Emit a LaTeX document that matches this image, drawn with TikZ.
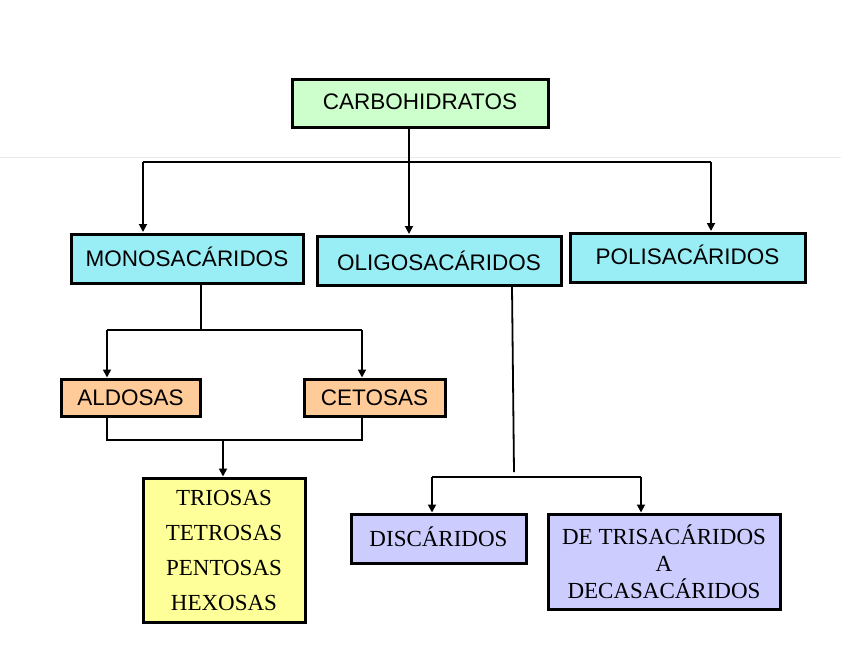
\documentclass[tikz,border=0pt]{standalone}
\usepackage{fontspec}
\setmainfont{Liberation Serif}
\setsansfont{Liberation Sans}
\usetikzlibrary{arrows.meta}
\definecolor{cgreen}{HTML}{CCFFCC}
\definecolor{ccyan}{HTML}{99EEF6}
\definecolor{corange}{HTML}{FFCC99}
\definecolor{cyellow}{HTML}{FFFF99}
\definecolor{clav}{HTML}{CCCCFF}
\tikzset{
 bx/.style={draw=black,line width=3pt,inner sep=0pt,font=\sffamily\fontsize{22.5}{26}\selectfont},
 sbx/.style={draw=black,line width=3pt,inner sep=0pt,align=center,font=\fontsize{23}{35}\selectfont},
 ln/.style={line width=1.8pt},
 ar/.style={line width=1.8pt,-{Triangle[length=8pt,width=8pt]}}
}
\begin{document}
\begin{tikzpicture}[x=1pt,y=-1pt]
\useasboundingbox (0,0) rectangle (841,665);
\draw[black!8,line width=1pt] (0,157) -- (841,157);
\node[bx,fill=cgreen,minimum width=256pt,minimum height=48pt] (carb) at (420,103) {\raisebox{3pt}{CARBOHIDRATOS}};
\node[bx,fill=ccyan,minimum width=232pt,minimum height=49pt] (mono) at (187,258.5) {\raisebox{3pt}{MONOSACÁRIDOS}};
\node[bx,fill=ccyan,minimum width=244pt,minimum height=49pt] (oligo) at (439,260.5) {OLIGOSACÁRIDOS};
\node[bx,fill=ccyan,minimum width=235pt,minimum height=49pt] (poli) at (687.5,257.5) {\raisebox{5pt}{POLISACÁRIDOS}};
\node[bx,fill=corange,minimum width=139pt,minimum height=37pt] (aldo) at (130.5,397.5) {ALDOSAS};
\node[bx,fill=corange,minimum width=141pt,minimum height=37pt] (ceto) at (374.5,397.5) {CETOSAS};
\node[sbx,fill=cyellow,minimum width=162pt,minimum height=144pt] (tri) at (224,550) {TRIOSAS\\TETROSAS\\PENTOSAS\\HEXOSAS};
\node[sbx,fill=clav,minimum width=175pt,minimum height=49pt] (dis) at (438.5,538.5) {\raisebox{4pt}{DISCÁRIDOS}};
\node[sbx,fill=clav,minimum width=232pt,minimum height=95pt,font=\fontsize{23}{27}\selectfont] (dec) at (664,561.5) {DE TRISACÁRIDOS\\A\\DECASACÁRIDOS};
\coordinate (j1) at (409,162);
\draw[ln] (carb.south -| j1) -- (j1);
\draw[ln] (143,162) -- (711,162);
\draw[ar] (143,162) -- (143,232);
\draw[ar] (j1) -- (409,234);
\draw[ar] (711,162) -- (711,231);
\draw[ln] (mono.south -| 201,0) -- (201,330);
\draw[ln] (107,330) -- (362,330);
\draw[ar] (107,330) -- (aldo.north -| 107,0);
\draw[ar] (362,330) -- (ceto.north -| 362,0);
\draw[ln] (aldo.south -| 107,0) -- (107,440) -- (362,440) -- (ceto.south -| 362,0);
\draw[ar] (223,440) -- (tri.north -| 223,0);
\draw[ln] (oligo.south -| 512,0) -- (514,472);
\draw[ln] (432,477) -- (641,477);
\draw[ar] (432,477) -- (dis.north -| 432,0);
\draw[ar] (641,477) -- (dec.north -| 641,0);
\end{tikzpicture}
\end{document}
